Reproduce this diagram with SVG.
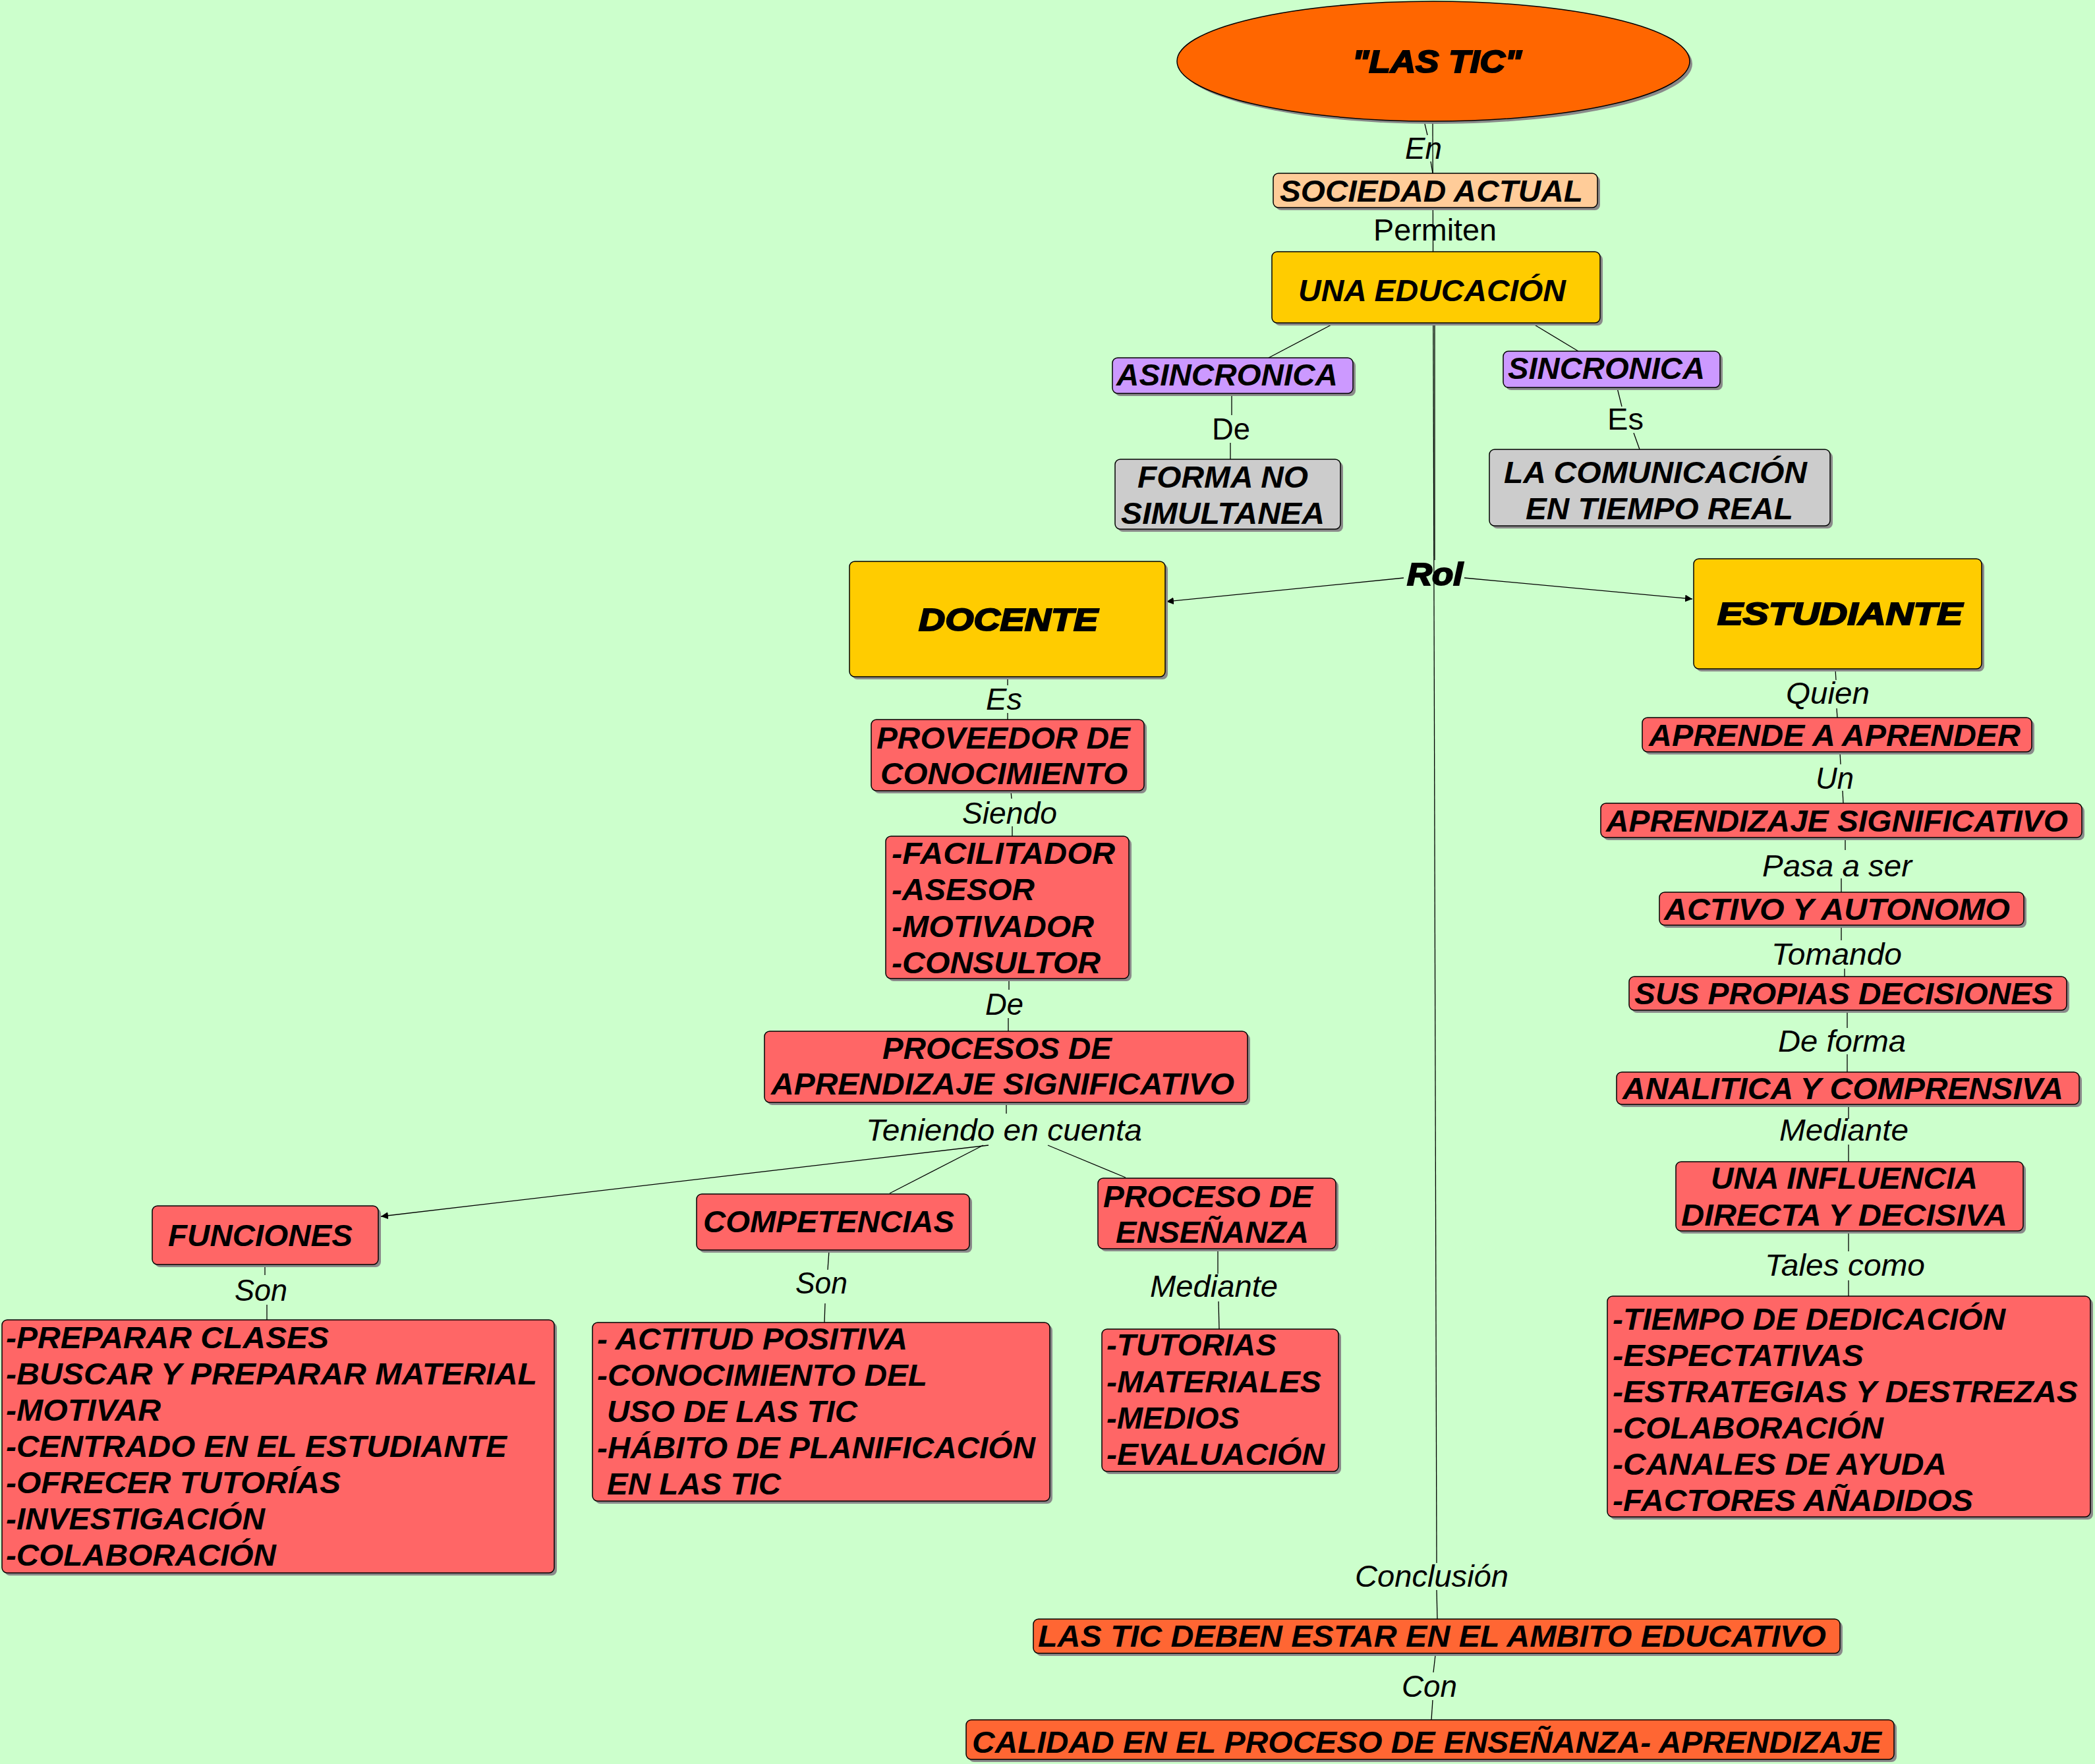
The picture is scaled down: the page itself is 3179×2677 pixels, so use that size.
<svg xmlns="http://www.w3.org/2000/svg" width="3179" height="2677" viewBox="0 0 3179 2677">
<style>
.sh{fill:#8a8a8a}
.bx{stroke:#000;stroke-width:1.5}
.or{fill:#FF6600}.pe{fill:#FFCC99}.ye{fill:#FFCC00}.li{fill:#CC99FF}.gr{fill:#CCCCCC}.re{fill:#FF6666}.rd{fill:#FF6633}
.t{font-family:"Liberation Sans",Arial,sans-serif;font-weight:bold;font-style:italic;font-size:46px;fill:#000}
.h{stroke:#000;stroke-width:2.2}
.l{font-family:"Liberation Sans",Arial,sans-serif;font-style:italic;font-size:46px;fill:#000}
.u{font-family:"Liberation Sans",Arial,sans-serif;font-size:46px;fill:#000}
.c line{stroke:#000;stroke-width:1.3;fill:none}
</style>
<defs>
<marker id="ah" viewBox="0 0 10 10" refX="10" refY="5" markerWidth="11" markerHeight="11" markerUnits="userSpaceOnUse" orient="auto">
<path d="M0,0 L10,5 L0,10 z" fill="#000"/>
</marker>
</defs>
<rect width="3179" height="2677" fill="#CCFFCC"/>

<g id="connectors" class="c">
<line x1="2174" y1="184" x2="2180" y2="2372"/>
<line x1="2177" y1="490" x2="2177" y2="850"/>
<line x1="2162" y1="188" x2="2166" y2="205"/>
<line x1="2171" y1="245" x2="2174" y2="263"/>
<line x1="2180" y1="2413" x2="2181" y2="2457"/>
<line x1="2178" y1="2512" x2="2175" y2="2538"/>
<line x1="2174" y1="2580" x2="2172" y2="2610"/>
<line x1="2022" y1="492" x2="1925" y2="543"/>
<line x1="2327" y1="492" x2="2395" y2="533"/>
<line x1="1869" y1="598" x2="1869" y2="630"/>
<line x1="1867" y1="672" x2="1867" y2="697"/>
<line x1="2454" y1="589" x2="2461" y2="617"/>
<line x1="2479" y1="657" x2="2488" y2="682"/>
<line x1="2130" y1="877" x2="1770" y2="913" marker-end="url(#ah)"/>
<line x1="2222" y1="877" x2="2568" y2="909" marker-end="url(#ah)"/>
<line x1="1529" y1="1028" x2="1529" y2="1040"/>
<line x1="1529" y1="1082" x2="1529" y2="1092"/>
<line x1="1534" y1="1201" x2="1535" y2="1212"/>
<line x1="1536" y1="1254" x2="1536" y2="1269"/>
<line x1="1531" y1="1486" x2="1531" y2="1502"/>
<line x1="1530" y1="1545" x2="1530" y2="1565"/>
<line x1="1527" y1="1674" x2="1527" y2="1690"/>
<line x1="1500" y1="1738" x2="578" y2="1846" marker-end="url(#ah)"/>
<line x1="1492" y1="1738" x2="1350" y2="1811"/>
<line x1="1590" y1="1738" x2="1708" y2="1787"/>
<line x1="402" y1="1920" x2="402" y2="1935"/>
<line x1="405" y1="1980" x2="405" y2="2003"/>
<line x1="1258" y1="1898" x2="1256" y2="1927"/>
<line x1="1252" y1="1978" x2="1251" y2="2007"/>
<line x1="1848" y1="1896" x2="1848" y2="1933"/>
<line x1="1849" y1="1975" x2="1850" y2="2017"/>
<line x1="2785" y1="1016" x2="2786" y2="1032"/>
<line x1="2787" y1="1075" x2="2788" y2="1089"/>
<line x1="2792" y1="1142" x2="2793" y2="1160"/>
<line x1="2796" y1="1200" x2="2797" y2="1219"/>
<line x1="2800" y1="1272" x2="2800" y2="1290"/>
<line x1="2794" y1="1333" x2="2794" y2="1354"/>
<line x1="2794" y1="1405" x2="2794" y2="1427"/>
<line x1="2799" y1="1470" x2="2799" y2="1482"/>
<line x1="2803" y1="1534" x2="2803" y2="1560"/>
<line x1="2803" y1="1600" x2="2803" y2="1627"/>
<line x1="2805" y1="1677" x2="2805" y2="1698"/>
<line x1="2805" y1="1737" x2="2805" y2="1763"/>
<line x1="2805" y1="1869" x2="2805" y2="1899"/>
<line x1="2805" y1="1943" x2="2805" y2="1967"/>
</g>

<g id="l-en"><text class="l" x="2132" y="241" textLength="56" lengthAdjust="spacingAndGlyphs">En</text></g>
<g id="l-permiten"><text class="u" x="2084" y="365" textLength="187" lengthAdjust="spacingAndGlyphs">Permiten</text></g>
<g id="l-de1"><text class="u" x="1839" y="667" textLength="58" lengthAdjust="spacingAndGlyphs">De</text></g>
<g id="l-es1"><text class="u" x="2439" y="652" textLength="55" lengthAdjust="spacingAndGlyphs">Es</text></g>
<g id="l-rol"><text class="t h" style="font-size:49px" x="2135" y="888" textLength="85" lengthAdjust="spacingAndGlyphs">Rol</text></g>
<g id="l-es2"><text class="l" x="1496" y="1077" textLength="55" lengthAdjust="spacingAndGlyphs">Es</text></g>
<g id="l-siendo"><text class="l" x="1460" y="1250" textLength="144" lengthAdjust="spacingAndGlyphs">Siendo</text></g>
<g id="l-de2"><text class="l" x="1495" y="1540" textLength="58" lengthAdjust="spacingAndGlyphs">De</text></g>
<g id="l-teniendo"><text class="l" x="1314" y="1731" textLength="419" lengthAdjust="spacingAndGlyphs">Teniendo en cuenta</text></g>
<g id="l-son1"><text class="l" x="356" y="1974" textLength="80" lengthAdjust="spacingAndGlyphs">Son</text></g>
<g id="l-son2"><text class="l" x="1207" y="1963" textLength="79" lengthAdjust="spacingAndGlyphs">Son</text></g>
<g id="l-mediante1"><text class="l" x="1745" y="1968" textLength="194" lengthAdjust="spacingAndGlyphs">Mediante</text></g>
<g id="l-quien"><text class="l" x="2710" y="1068" textLength="127" lengthAdjust="spacingAndGlyphs">Quien</text></g>
<g id="l-un"><text class="l" x="2755" y="1197" textLength="58" lengthAdjust="spacingAndGlyphs">Un</text></g>
<g id="l-pasa"><text class="l" x="2674" y="1330" textLength="227" lengthAdjust="spacingAndGlyphs">Pasa a ser</text></g>
<g id="l-tomando"><text class="l" x="2688" y="1464" textLength="198" lengthAdjust="spacingAndGlyphs">Tomando</text></g>
<g id="l-deforma"><text class="l" x="2698" y="1596" textLength="194" lengthAdjust="spacingAndGlyphs">De forma</text></g>
<g id="l-mediante2"><text class="l" x="2700" y="1731" textLength="196" lengthAdjust="spacingAndGlyphs">Mediante</text></g>
<g id="l-tales"><text class="l" x="2678" y="1936" textLength="243" lengthAdjust="spacingAndGlyphs">Tales como</text></g>
<g id="l-conclusion"><text class="l" x="2056" y="2408" textLength="233" lengthAdjust="spacingAndGlyphs">Conclusión</text></g>
<g id="l-con"><text class="l" x="2127" y="2575" textLength="84" lengthAdjust="spacingAndGlyphs">Con</text></g>

<g id="n-lastic">
<ellipse class="sh" cx="2179" cy="97" rx="389" ry="91"/>
<ellipse class="or bx" cx="2175" cy="93" rx="389" ry="91"/>
<text class="t h" style="font-size:49px" x="2052" y="110" textLength="257" lengthAdjust="spacingAndGlyphs">"LAS TIC"</text>
</g>
<g id="n-sociedad">
<rect class="sh" x="1936" y="267" width="492" height="52" rx="8"/>
<rect class="pe bx" x="1932" y="263" width="492" height="52" rx="8"/>
<text class="t" x="1942" y="306" textLength="460" lengthAdjust="spacingAndGlyphs">SOCIEDAD ACTUAL</text>
</g>
<g id="n-educacion">
<rect class="sh" x="1934" y="386" width="498" height="108" rx="8"/>
<rect class="ye bx" x="1930" y="382" width="498" height="108" rx="8"/>
<text class="t" x="1970" y="457" textLength="406" lengthAdjust="spacingAndGlyphs">UNA EDUCACIÓN</text>
</g>
<g id="n-asincronica">
<rect class="sh" x="1692" y="547" width="365" height="54" rx="8"/>
<rect class="li bx" x="1688" y="543" width="365" height="54" rx="8"/>
<text class="t" x="1694" y="585" textLength="336" lengthAdjust="spacingAndGlyphs">ASINCRONICA</text>
</g>
<g id="n-forma">
<rect class="sh" x="1696" y="701" width="342" height="106" rx="8"/>
<rect class="gr bx" x="1692" y="697" width="342" height="106" rx="8"/>
<text class="t" x="1726" y="740" textLength="259" lengthAdjust="spacingAndGlyphs">FORMA NO</text>
<text class="t" x="1701" y="795" textLength="309" lengthAdjust="spacingAndGlyphs">SIMULTANEA</text>
</g>
<g id="n-sincronica">
<rect class="sh" x="2285" y="537" width="329" height="55" rx="8"/>
<rect class="li bx" x="2281" y="533" width="329" height="55" rx="8"/>
<text class="t" x="2288" y="575" textLength="299" lengthAdjust="spacingAndGlyphs">SINCRONICA</text>
</g>
<g id="n-comunicacion">
<rect class="sh" x="2264" y="686" width="517" height="116" rx="8"/>
<rect class="gr bx" x="2260" y="682" width="517" height="116" rx="8"/>
<text class="t" x="2282" y="733" textLength="460" lengthAdjust="spacingAndGlyphs">LA COMUNICACIÓN</text>
<text class="t" x="2315" y="788" textLength="406" lengthAdjust="spacingAndGlyphs">EN TIEMPO REAL</text>
</g>
<g id="n-docente">
<rect class="sh" x="1293" y="856" width="479" height="175" rx="8"/>
<rect class="ye bx" x="1289" y="852" width="479" height="175" rx="8"/>
<text class="t h" style="font-size:49px" x="1394" y="957" textLength="272" lengthAdjust="spacingAndGlyphs">DOCENTE</text>
</g>
<g id="n-estudiante">
<rect class="sh" x="2574" y="852" width="437" height="167" rx="8"/>
<rect class="ye bx" x="2570" y="848" width="437" height="167" rx="8"/>
<text class="t h" style="font-size:49px" x="2606" y="948" textLength="372" lengthAdjust="spacingAndGlyphs">ESTUDIANTE</text>
</g>
<g id="n-proveedor">
<rect class="sh" x="1326" y="1096" width="414" height="108" rx="8"/>
<rect class="re bx" x="1322" y="1092" width="414" height="108" rx="8"/>
<text class="t" x="1330" y="1136" textLength="385" lengthAdjust="spacingAndGlyphs">PROVEEDOR DE</text>
<text class="t" x="1336" y="1190" textLength="375" lengthAdjust="spacingAndGlyphs">CONOCIMIENTO</text>
</g>
<g id="n-facilitador">
<rect class="sh" x="1348" y="1273" width="369" height="216" rx="8"/>
<rect class="re bx" x="1344" y="1269" width="369" height="216" rx="8"/>
<text class="t" x="1353" y="1311" textLength="339" lengthAdjust="spacingAndGlyphs">-FACILITADOR</text>
<text class="t" x="1353" y="1366" textLength="217" lengthAdjust="spacingAndGlyphs">-ASESOR</text>
<text class="t" x="1353" y="1422" textLength="307" lengthAdjust="spacingAndGlyphs">-MOTIVADOR</text>
<text class="t" x="1353" y="1477" textLength="317" lengthAdjust="spacingAndGlyphs">-CONSULTOR</text>
</g>
<g id="n-procesos">
<rect class="sh" x="1164" y="1569" width="733" height="108" rx="8"/>
<rect class="re bx" x="1160" y="1565" width="733" height="108" rx="8"/>
<text class="t" x="1339" y="1607" textLength="348" lengthAdjust="spacingAndGlyphs">PROCESOS DE</text>
<text class="t" x="1170" y="1661" textLength="703" lengthAdjust="spacingAndGlyphs">APRENDIZAJE SIGNIFICATIVO</text>
</g>
<g id="n-funciones">
<rect class="sh" x="235" y="1834" width="343" height="89" rx="8"/>
<rect class="re bx" x="231" y="1830" width="343" height="89" rx="8"/>
<text class="t" x="255" y="1891" textLength="280" lengthAdjust="spacingAndGlyphs">FUNCIONES</text>
</g>
<g id="n-funciones-lista">
<rect class="sh" x="7" y="2007" width="838" height="384" rx="8"/>
<rect class="re bx" x="3" y="2003" width="838" height="384" rx="8"/>
<text class="t" x="9" y="2046" textLength="490" lengthAdjust="spacingAndGlyphs">-PREPARAR CLASES</text>
<text class="t" x="9" y="2101" textLength="806" lengthAdjust="spacingAndGlyphs">-BUSCAR Y PREPARAR MATERIAL</text>
<text class="t" x="9" y="2156" textLength="235" lengthAdjust="spacingAndGlyphs">-MOTIVAR</text>
<text class="t" x="9" y="2211" textLength="760" lengthAdjust="spacingAndGlyphs">-CENTRADO EN EL ESTUDIANTE</text>
<text class="t" x="9" y="2266" textLength="508" lengthAdjust="spacingAndGlyphs">-OFRECER TUTORÍAS</text>
<text class="t" x="9" y="2321" textLength="393" lengthAdjust="spacingAndGlyphs">-INVESTIGACIÓN</text>
<text class="t" x="9" y="2376" textLength="410" lengthAdjust="spacingAndGlyphs">-COLABORACIÓN</text>
</g>
<g id="n-competencias">
<rect class="sh" x="1061" y="1816" width="414" height="85" rx="8"/>
<rect class="re bx" x="1057" y="1812" width="414" height="85" rx="8"/>
<text class="t" x="1067" y="1870" textLength="381" lengthAdjust="spacingAndGlyphs">COMPETENCIAS</text>
</g>
<g id="n-competencias-lista">
<rect class="sh" x="903" y="2011" width="694" height="271" rx="8"/>
<rect class="re bx" x="899" y="2007" width="694" height="271" rx="8"/>
<text class="t" x="906" y="2048" textLength="471" lengthAdjust="spacingAndGlyphs">- ACTITUD POSITIVA</text>
<text class="t" x="906" y="2103" textLength="501" lengthAdjust="spacingAndGlyphs">-CONOCIMIENTO DEL</text>
<text class="t" x="921" y="2158" textLength="380" lengthAdjust="spacingAndGlyphs">USO DE LAS TIC</text>
<text class="t" x="906" y="2213" textLength="665" lengthAdjust="spacingAndGlyphs">-HÁBITO DE PLANIFICACIÓN</text>
<text class="t" x="921" y="2268" textLength="264" lengthAdjust="spacingAndGlyphs">EN LAS TIC</text>
</g>
<g id="n-proceso-ensenanza">
<rect class="sh" x="1670" y="1792" width="361" height="107" rx="8"/>
<rect class="re bx" x="1666" y="1788" width="361" height="107" rx="8"/>
<text class="t" x="1674" y="1832" textLength="318" lengthAdjust="spacingAndGlyphs">PROCESO DE</text>
<text class="t" x="1693" y="1886" textLength="293" lengthAdjust="spacingAndGlyphs">ENSEÑANZA</text>
</g>
<g id="n-proceso-lista">
<rect class="sh" x="1676" y="2021" width="359" height="216" rx="8"/>
<rect class="re bx" x="1672" y="2017" width="359" height="216" rx="8"/>
<text class="t" x="1679" y="2057" textLength="258" lengthAdjust="spacingAndGlyphs">-TUTORIAS</text>
<text class="t" x="1679" y="2113" textLength="326" lengthAdjust="spacingAndGlyphs">-MATERIALES</text>
<text class="t" x="1679" y="2168" textLength="202" lengthAdjust="spacingAndGlyphs">-MEDIOS</text>
<text class="t" x="1679" y="2223" textLength="331" lengthAdjust="spacingAndGlyphs">-EVALUACIÓN</text>
</g>
<g id="n-aprende">
<rect class="sh" x="2496" y="1093" width="591" height="52" rx="8"/>
<rect class="re bx" x="2492" y="1089" width="591" height="52" rx="8"/>
<text class="t" x="2502" y="1132" textLength="564" lengthAdjust="spacingAndGlyphs">APRENDE A APRENDER</text>
</g>
<g id="n-aprendizaje">
<rect class="sh" x="2433" y="1223" width="730" height="52" rx="8"/>
<rect class="re bx" x="2429" y="1219" width="730" height="52" rx="8"/>
<text class="t" x="2437" y="1262" textLength="701" lengthAdjust="spacingAndGlyphs">APRENDIZAJE SIGNIFICATIVO</text>
</g>
<g id="n-activo">
<rect class="sh" x="2522" y="1358" width="553" height="50" rx="8"/>
<rect class="re bx" x="2518" y="1354" width="553" height="50" rx="8"/>
<text class="t" x="2525" y="1396" textLength="525" lengthAdjust="spacingAndGlyphs">ACTIVO Y AUTONOMO</text>
</g>
<g id="n-decisiones">
<rect class="sh" x="2476" y="1486" width="664" height="51" rx="8"/>
<rect class="re bx" x="2472" y="1482" width="664" height="51" rx="8"/>
<text class="t" x="2480" y="1524" textLength="635" lengthAdjust="spacingAndGlyphs">SUS PROPIAS DECISIONES</text>
</g>
<g id="n-analitica">
<rect class="sh" x="2457" y="1631" width="702" height="49" rx="8"/>
<rect class="re bx" x="2453" y="1627" width="702" height="49" rx="8"/>
<text class="t" x="2462" y="1668" textLength="669" lengthAdjust="spacingAndGlyphs">ANALITICA Y COMPRENSIVA</text>
</g>
<g id="n-influencia">
<rect class="sh" x="2547" y="1767" width="527" height="105" rx="8"/>
<rect class="re bx" x="2543" y="1763" width="527" height="105" rx="8"/>
<text class="t" x="2596" y="1804" textLength="405" lengthAdjust="spacingAndGlyphs">UNA INFLUENCIA</text>
<text class="t" x="2551" y="1860" textLength="495" lengthAdjust="spacingAndGlyphs">DIRECTA Y DECISIVA</text>
</g>
<g id="n-factores">
<rect class="sh" x="2443" y="1971" width="733" height="335" rx="8"/>
<rect class="re bx" x="2439" y="1967" width="733" height="335" rx="8"/>
<text class="t" x="2447" y="2018" textLength="596" lengthAdjust="spacingAndGlyphs">-TIEMPO DE DEDICACIÓN</text>
<text class="t" x="2447" y="2073" textLength="381" lengthAdjust="spacingAndGlyphs">-ESPECTATIVAS</text>
<text class="t" x="2447" y="2128" textLength="706" lengthAdjust="spacingAndGlyphs">-ESTRATEGIAS Y DESTREZAS</text>
<text class="t" x="2447" y="2183" textLength="411" lengthAdjust="spacingAndGlyphs">-COLABORACIÓN</text>
<text class="t" x="2447" y="2238" textLength="507" lengthAdjust="spacingAndGlyphs">-CANALES DE AYUDA</text>
<text class="t" x="2447" y="2293" textLength="547" lengthAdjust="spacingAndGlyphs">-FACTORES AÑADIDOS</text>
</g>
<g id="n-ambito">
<rect class="sh" x="1572" y="2461" width="1224" height="52" rx="8"/>
<rect class="rd bx" x="1568" y="2457" width="1224" height="52" rx="8"/>
<text class="t" x="1575" y="2499" textLength="1196" lengthAdjust="spacingAndGlyphs">LAS TIC DEBEN ESTAR EN EL AMBITO EDUCATIVO</text>
</g>
<g id="n-calidad">
<rect class="sh" x="1470" y="2614" width="1408" height="60" rx="8"/>
<rect class="rd bx" x="1466" y="2610" width="1408" height="60" rx="8"/>
<text class="t" x="1475" y="2660" textLength="1380" lengthAdjust="spacingAndGlyphs">CALIDAD EN EL PROCESO DE ENSEÑANZA- APRENDIZAJE</text>
</g>
</svg>
